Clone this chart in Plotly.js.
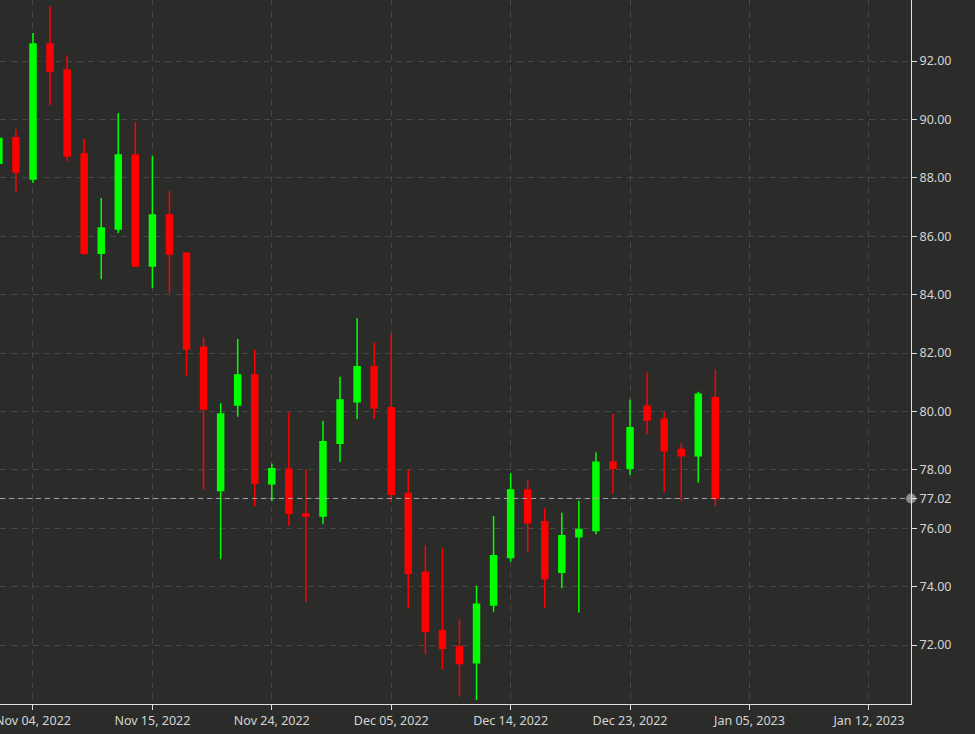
<!DOCTYPE html>
<html>
<head>
<meta charset="utf-8">
<script src="https://cdn.plot.ly/plotly-3.0.1.min.js"></script>
<style>
  html, body { margin: 0; padding: 0; background: #2b2c2a; }
  #chart { width: 975px; height: 734px; }
</style>
</head>
<body>
<div id="chart"></div>
<script>
// Trading days shown (business days)
const dates = [
  "2022-11-02","2022-11-03","2022-11-04","2022-11-07","2022-11-08","2022-11-09","2022-11-10",
  "2022-11-11","2022-11-14","2022-11-15","2022-11-16","2022-11-17","2022-11-18","2022-11-21",
  "2022-11-22","2022-11-23","2022-11-24","2022-11-25","2022-11-28","2022-11-29","2022-11-30",
  "2022-12-01","2022-12-02","2022-12-05","2022-12-06","2022-12-07","2022-12-08","2022-12-09",
  "2022-12-12","2022-12-13","2022-12-14","2022-12-15","2022-12-16","2022-12-19","2022-12-20",
  "2022-12-21","2022-12-22","2022-12-23","2022-12-27","2022-12-28","2022-12-29","2022-12-30",
  "2023-01-03"
];
const openP  = [88.50,89.37,87.96,92.58,91.69,88.82,85.42,86.25,88.78,84.98,86.73,85.42,82.20,77.29,
                80.22,81.25,77.52,78.02,76.49,76.42,78.91,80.33,81.53,80.13,77.19,74.49,72.49,71.94,
                71.39,73.37,75.00,77.31,76.22,74.49,75.71,75.92,78.26,78.05,80.18,79.73,78.70,78.48,80.47];
const highP  = [89.50,89.66,92.96,93.88,92.20,89.33,87.31,90.22,89.91,88.75,87.55,85.45,82.54,80.28,
                82.48,82.10,78.22,79.96,78.00,79.67,81.19,83.19,82.36,82.67,78.00,75.42,75.31,72.88,
                74.03,76.42,77.88,77.63,76.68,76.53,76.94,78.60,79.91,80.41,81.33,79.96,78.91,80.67,81.44];
const lowP   = [88.30,87.52,87.82,90.49,88.58,85.36,84.53,86.11,84.95,84.23,84.05,81.22,77.33,74.94,
                79.82,76.76,76.92,76.08,73.47,76.14,78.27,79.74,79.74,76.89,73.26,71.68,71.17,70.23,
                70.12,73.14,74.85,75.17,73.28,73.94,73.11,75.79,77.19,77.82,79.22,77.25,76.94,77.57,76.74];
const closeP = [89.35,88.20,92.58,91.66,88.75,85.42,86.28,88.78,84.98,86.73,85.39,82.14,80.08,79.91,
                81.25,77.54,78.04,76.51,76.42,78.96,80.39,81.53,80.13,77.16,74.46,72.46,71.89,71.37,
                73.40,75.06,77.31,76.19,74.28,75.74,75.96,78.26,78.05,79.44,79.71,78.65,78.48,80.59,77.02];

// x-axis tick labels (every 7th trading-day slot, starting at Nov 04)
const tickLabels = ["Nov 04, 2022","Nov 15, 2022","Nov 24, 2022","Dec 05, 2022",
                    "Dec 14, 2022","Dec 23, 2022","Jan 05, 2023","Jan 12, 2023"];
const yTicks = [72,74,76,78,80,82,84,86,88,90,92];

// positions: slot index relative to Nov 04
const firstTickIdx = dates.indexOf("2022-11-04");
const xs = dates.map((d, i) => i - firstTickIdx);
const xTickVals = tickLabels.map((t, k) => k * 7);

const lastClose = closeP[closeP.length - 1];
const xRange = [-1.934, 51.47];

const yTickVals = yTicks.concat([lastClose]);
const yTickText = yTickVals.map(v => v.toFixed(2));

const traces = [
  {
    type: "candlestick",
    x: xs, open: openP, high: highP, low: lowP, close: closeP,
    text: dates,
    increasing: { line: { color: "#00ff00", width: 1.5 }, fillcolor: "#00ff00" },
    decreasing: { line: { color: "#ff0000", width: 1.5 }, fillcolor: "#ff0000" },
    whiskerwidth: 0,
    showlegend: false,
    hoverinfo: "text+y"
  },
  {
    type: "scatter", mode: "markers",
    x: [xRange[1]], y: [lastClose],
    marker: { size: 10, color: "#8c8c8c" },
    cliponaxis: false, showlegend: false, hoverinfo: "skip"
  }
];

const axisFont = { family: "Noto Sans, Open Sans, sans-serif", size: 12.5, color: "#d4d4d4" };

const layout = {
  width: 975, height: 734,
  margin: { l: 0, r: 64, t: 0, b: 30 },
  paper_bgcolor: "#2b2c2a",
  plot_bgcolor: "#2b2c2a",
  boxgap: 0.5,
  showlegend: false,
  xaxis: {
    type: "linear",
    range: xRange,
    tickvals: xTickVals,
    ticktext: tickLabels,
    tickfont: axisFont,
    ticklabeloverflow: "allow",
    showgrid: true, gridcolor: "#474845", griddash: "6px,5px", gridwidth: 1,
    zeroline: false,
    showline: true, linecolor: "#e0e0e0", linewidth: 1,
    ticks: "outside", ticklen: 5, tickcolor: "#e0e0e0",
    rangeslider: { visible: false },
    fixedrange: true
  },
  yaxis: {
    side: "right",
    range: [69.98, 94.09],
    tickvals: yTickVals,
    ticktext: yTickText,
    tickfont: axisFont,
    showgrid: true, gridcolor: "#474845", griddash: "6px,5px", gridwidth: 1,
    zeroline: false,
    showline: true, linecolor: "#e0e0e0", linewidth: 1,
    ticks: "outside", ticklen: 5, tickcolor: "#e0e0e0",
    fixedrange: true
  },
  shapes: [
    {
      type: "line", xref: "paper", x0: 0, x1: 1, yref: "y", y0: lastClose, y1: lastClose,
      line: { color: "#a5a5a5", width: 1, dash: "5px,4px" }
    }
  ]
};

Plotly.newPlot("chart", traces, layout, { displayModeBar: false, staticPlot: true });
</script>
</body>
</html>
